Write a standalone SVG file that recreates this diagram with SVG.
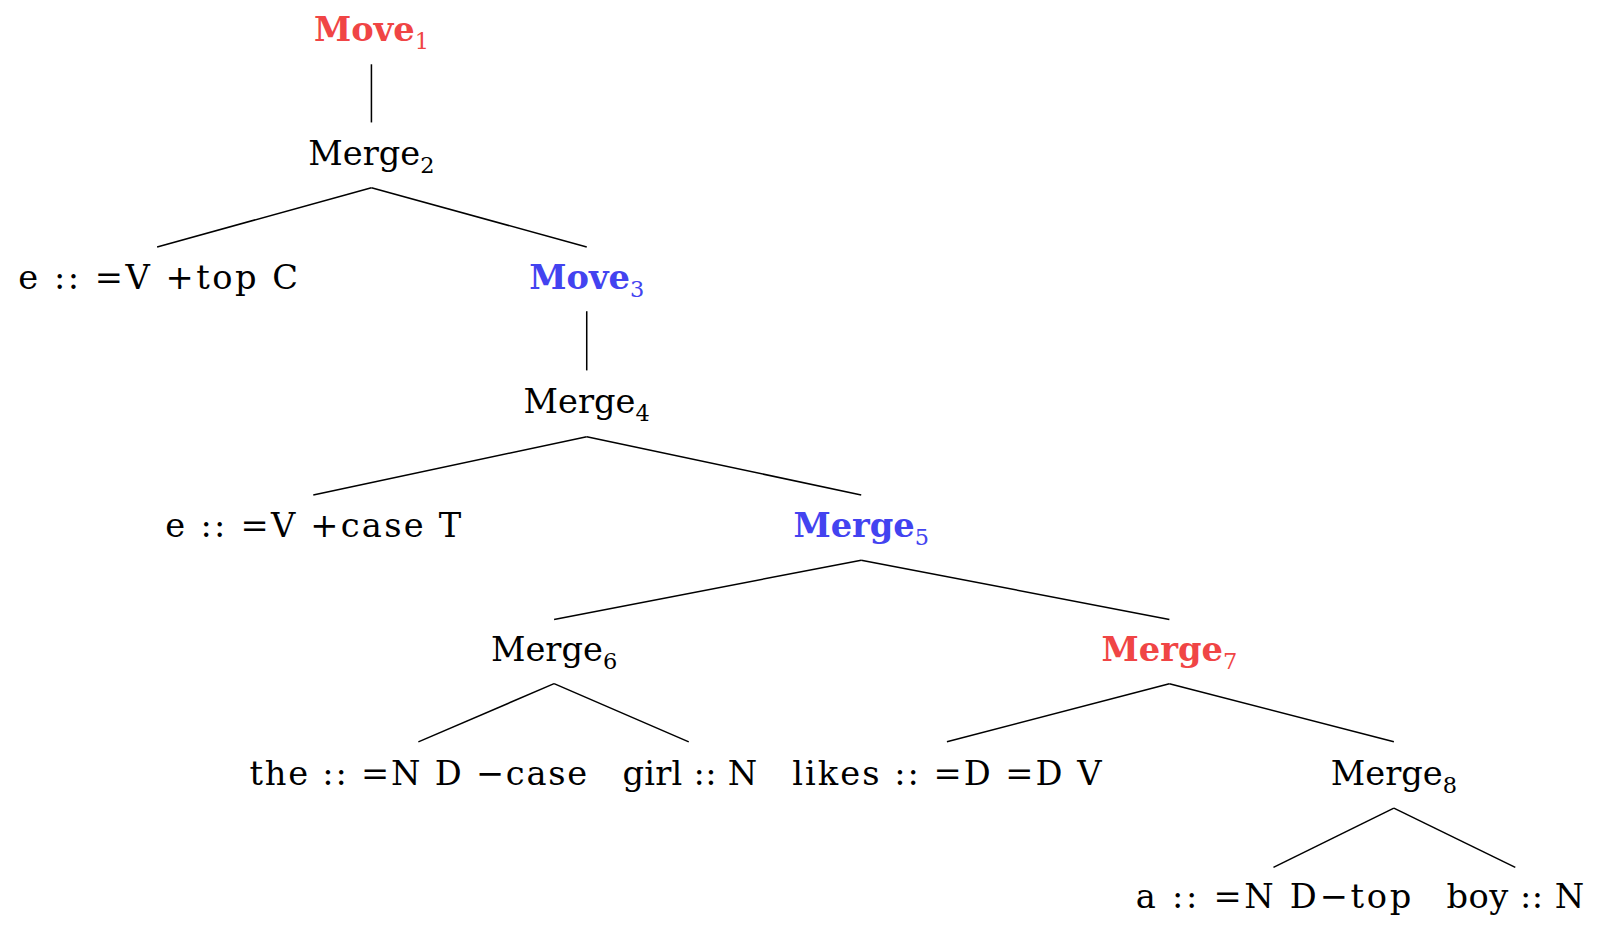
<svg xmlns="http://www.w3.org/2000/svg" width="1600" height="931" viewBox="0 0 1600 931">
<style>
text{font-family:"DejaVu Serif","Liberation Serif",serif;font-size:33px;fill:#000;text-anchor:middle}
.r{fill:#f04545;font-weight:bold}
.b{fill:#4343f0;font-weight:bold}
.s{font-size:22px;font-weight:normal}
line{stroke:#000;stroke-width:1.5}
</style>
<rect width="1600" height="931" fill="#fff"/>
<g transform="scale(1.0204)">
<g id="connectors">
<line x1="364" y1="63" x2="364" y2="120"/>
<line x1="364" y1="184" x2="154" y2="242"/><line x1="364" y1="184" x2="575" y2="242"/>
<line x1="575" y1="305" x2="575" y2="363"/>
<line x1="575" y1="428" x2="307" y2="485"/><line x1="575" y1="428" x2="844" y2="485"/>
<line x1="844" y1="549" x2="543" y2="607"/><line x1="844" y1="549" x2="1146" y2="607"/>
<line x1="543" y1="670" x2="410" y2="727"/><line x1="543" y1="670" x2="675" y2="727"/>
<line x1="1146" y1="670" x2="928" y2="727"/><line x1="1146" y1="670" x2="1366" y2="727"/>
<line x1="1366" y1="792" x2="1248" y2="850"/><line x1="1366" y1="792" x2="1485" y2="850"/>
</g>
<g id="move1"><text x="364" y="40" class="r">Move<tspan class="s" dy="8">1</tspan></text></g>
<g id="merge2"><text x="364" y="162">Merge<tspan class="s" dy="8">2</tspan></text></g>
<g id="lex1"><text x="155" y="283" textLength="274" lengthAdjust="spacing">e :: =V +top C</text></g>
<g id="move3"><text x="575" y="283" class="b">Move<tspan class="s" dy="8">3</tspan></text></g>
<g id="merge4"><text x="575" y="405">Merge<tspan class="s" dy="8">4</tspan></text></g>
<g id="lex2"><text x="307" y="526" textLength="290" lengthAdjust="spacing">e :: =V +case T</text></g>
<g id="merge5"><text x="844" y="526" class="b">Merge<tspan class="s" dy="8">5</tspan></text></g>
<g id="merge6"><text x="543" y="648">Merge<tspan class="s" dy="8">6</tspan></text></g>
<g id="merge7"><text x="1146" y="648" class="r">Merge<tspan class="s" dy="8">7</tspan></text></g>
<g id="lex3"><text x="410" y="769" textLength="331" lengthAdjust="spacing">the :: =N D −case</text></g>
<g id="lex4"><text x="676" y="769" textLength="132" lengthAdjust="spacing">girl :: N</text></g>
<g id="lex5"><text x="928" y="769" textLength="303" lengthAdjust="spacing">likes :: =D =D V</text></g>
<g id="merge8"><text x="1366" y="769">Merge<tspan class="s" dy="8">8</tspan></text></g>
<g id="lex6"><text x="1248" y="890" textLength="270" lengthAdjust="spacing">a :: =N D−top</text></g>
<g id="lex7"><text x="1485" y="890" textLength="135" lengthAdjust="spacing">boy :: N</text></g>
</g>
</svg>
